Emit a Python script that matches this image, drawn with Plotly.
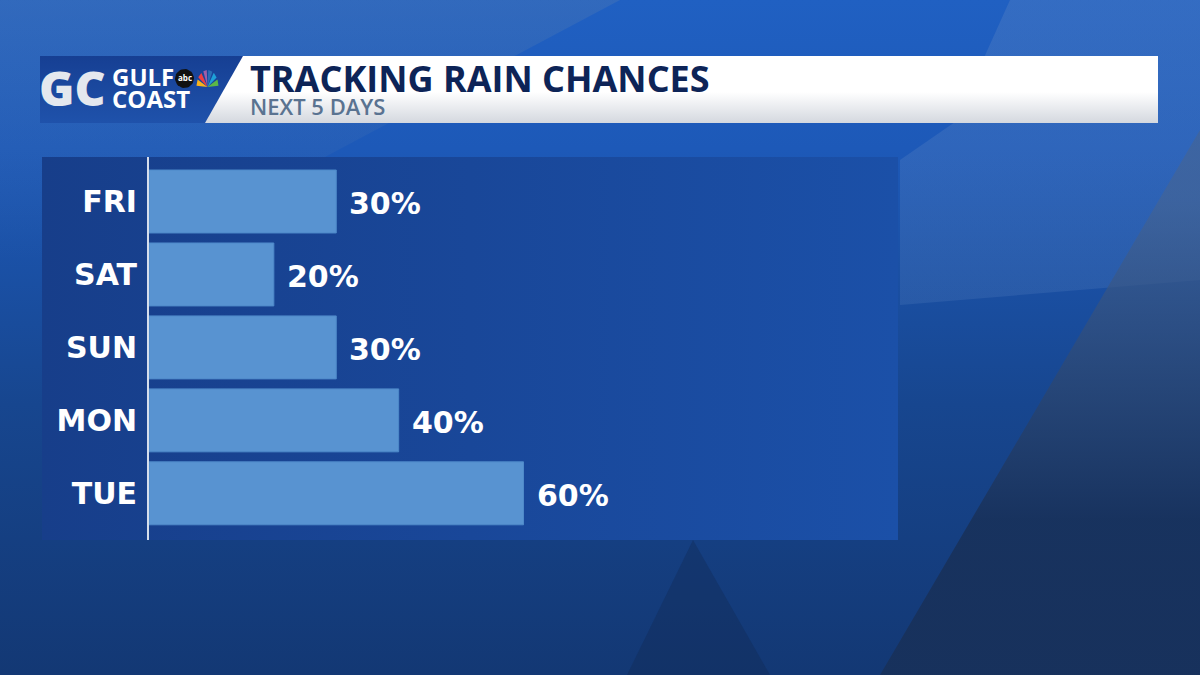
import math
import plotly.graph_objects as go

days = ["FRI", "SAT", "SUN", "MON", "TUE"]
rain_chance = [30, 20, 30, 40, 60]
value_labels = ["30%", "20%", "30%", "40%", "60%"]
title_text = "TRACKING RAIN CHANCES"
subtitle_text = "NEXT 5 DAYS"
brand_lines = ["GULF", "COAST"]

W, H = 1200, 675
TITLE_FONT = "Open Sans"
LABEL_FONT = "DejaVu Sans"

fig = go.Figure()

# ---------- background layer (full-figure pixel subplot xy) ----------
def poly(points, c0, c1=None, kind="vertical", start=None, stop=None, scale=None):
    xs = [p[0] for p in points] + [points[0][0]]
    ys = [p[1] for p in points] + [points[0][1]]
    kw = {}
    if c1 is None and scale is None:
        kw["fillcolor"] = c0
    else:
        g = dict(type=kind, colorscale=scale if scale else [[0, c0], [1, c1]])
        if start is not None:
            g["start"] = start
        if stop is not None:
            g["stop"] = stop
        kw["fillgradient"] = g
    fig.add_trace(go.Scatter(x=xs, y=ys, fill="toself", mode="lines",
                             line=dict(width=0, color="rgba(0,0,0,0)"),
                             hoverinfo="skip", showlegend=False,
                             xaxis="x", yaxis="y", **kw))

def box(x0, y0, x1, y1, c0, c1=None, kind="vertical", start=None, stop=None, scale=None):
    poly([(x0, y0), (x1, y0), (x1, y1), (x0, y1)], c0, c1, kind, start, stop, scale)

# base vertical gradient
box(0, 0, 1200, 675, None, scale=[[0, "#2060c2"], [0.22, "#1d59b8"],
                                   [0.6, "#17468f"], [1, "#133874"]], start=0, stop=675)
# soft lighter top-left
poly([(0, 0), (620, 0), (0, 330)], "rgba(95,130,175,0.28)", "rgba(95,130,175,0)", start=0, stop=260)
# right textured lighter region
poly([(1010, 0), (1200, 0), (1200, 280), (900, 305), (900, 160), (955, 122)],
     "rgba(95,135,195,0.22)", "rgba(95,135,195,0.32)")
# lower dark facet bottom-center
poly([(693, 540), (770, 675), (627, 675)], "rgba(16,40,80,0.35)")
# right dark facet
poly([(1200, 130), (1200, 675), (880, 675)],
     "rgba(70,100,145,0.6)", "rgba(24,48,88,0.85)", start=200, stop=520)

# chart panel
box(42, 157, 898, 540, "#173e8a", "#1b50a8", kind="horizontal")

# header bar
box(40, 56, 1158, 123, "#ffffff", "#d4d8df", start=92, stop=123)
poly([(40, 56), (243, 56), (205, 123), (40, 123)], "#1f52ab", "#163f93")

# peacock feathers
peacock_colors = ["#f9b21b", "#ef3e42", "#9e5fa8", "#2c6db5", "#1ea0d8", "#5cb947"]
pcx, pcy, prx, pry = 207.5, 87.0, 11.0, 17.0
for i, c in enumerate(peacock_colors):
    a0 = math.radians(180 - i * 30 - 4)
    a1 = math.radians(180 - (i + 1) * 30 + 4)
    pts = [(pcx, pcy)]
    for k in range(7):
        a = a0 + (a1 - a0) * k / 6
        pts.append((pcx + prx * math.cos(a), pcy - pry * math.sin(a)))
    poly(pts, c)

# abc circle
th = [2 * math.pi * k / 40 for k in range(40)]
poly([(184.5 + 9.5 * math.cos(t), 78.5 + 9.5 * math.sin(t)) for t in th], "#111111")

# ---------- bar chart (subplot x2y2) ----------
fig.add_trace(go.Bar(
    x=rain_chance, y=days, orientation="h",
    marker=dict(color="#5893d1", line=dict(color="#4e89c9", width=1)),
    hoverinfo="skip", showlegend=False, xaxis="x2", yaxis="y2",
))

annotations = []

def text(x, y, s, size, color, weight=700, xanchor="left", family=TITLE_FONT):
    annotations.append(dict(xref="paper", yref="paper", x=x / W, y=1 - y / H, text=s,
                            showarrow=False, xanchor=xanchor, yanchor="middle", align="left",
                            font=dict(family=family, size=size, color=color, weight=weight)))

text(108, 88, "GC", 48, "#e4e8ee", 800, xanchor="right")
text(110, 88, "<span style='font-size:24px'>" + brand_lines[0] + "</span><br>"
     "<span style='font-size:24px'>" + brand_lines[1] + "</span>", 17, "#ffffff", 700)
text(184.5, 77, "abc", 8, "#ffffff", 700, xanchor="center")

text(248, 88,
     "<span style='font-size:36px;color:#0d2457;font-weight:700'>" + title_text + "</span><br>"
     "<span style='font-size:22px;color:#5a7391;font-weight:600'>" + subtitle_text + "</span>",
     18, "#0d2457", 600)

for d, v, lab in zip(days, rain_chance, value_labels):
    annotations.append(dict(x=v, y=d, xref="x2", yref="y2", text=lab, showarrow=False,
                            xanchor="left", yanchor="middle", xshift=11, yshift=-2,
                            font=dict(family=LABEL_FONT, size=30, color="#ffffff", weight=700)))

fig.update_layout(
    width=W, height=H,
    margin=dict(l=0, r=0, t=0, b=0),
    paper_bgcolor="#1b4f9e",
    plot_bgcolor="rgba(0,0,0,0)",
    bargap=0.137,
    annotations=annotations,
    xaxis=dict(domain=[0, 1], range=[0, W], visible=False, fixedrange=True),
    yaxis=dict(domain=[0, 1], range=[H, 0], visible=False, fixedrange=True),
    xaxis2=dict(domain=[149 / W, 898 / W], range=[0, 120], visible=False,
                fixedrange=True, anchor="y2"),
    yaxis2=dict(domain=[1 - 540 / H, 1 - 157 / H], anchor="x2",
                categoryorder="array", categoryarray=days,
                range=[4.64, -0.61], showline=True, linecolor="#d6deec", linewidth=2,
                showgrid=False, zeroline=False, ticks="outside", ticklen=4,
                tickcolor="rgba(0,0,0,0)",
                tickfont=dict(family=LABEL_FONT, size=30, color="#ffffff", weight=700),
                fixedrange=True),
)

fig.write_html("out.html")
